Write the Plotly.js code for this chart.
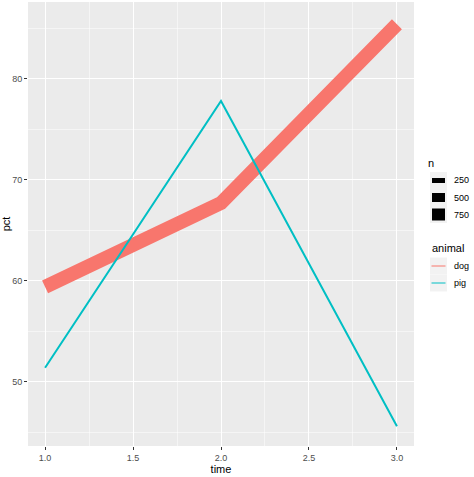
<!DOCTYPE html>
<html>
<head>
<meta charset="utf-8">
<script src="https://cdn.plot.ly/plotly-3.0.1.min.js"></script>
<style>body{margin:0;padding:0;background:#fff;} #chart{width:474px;height:477px;}</style>
</head>
<body>
<div id="chart"></div>
<script>
// Data
const time = [1.0, 2.0, 3.0];
const dogPct = [59.4, 67.7, 85.4];
const pigPct = [51.4, 77.8, 45.6];
const animals = ["dog", "pig"];
const nLabels = ["250", "500", "750"];
const xTicks = [1.0, 1.5, 2.0, 2.5, 3.0];
const xTickText = ["1.0", "1.5", "2.0", "2.5", "3.0"];
const yTicks = [50, 60, 70, 80];

const W = 474, H = 477;
const L = 28, T = 2, R = 414, B = 446;
const px = x => (x - L) / (R - L);
const py = y => (B - y) / (B - T);

const dogColor = "#F8766D", pigColor = "#00BFC4";

const traces = [
  {x: time, y: dogPct, type: "scatter", mode: "lines", name: animals[0],
   line: {color: dogColor, width: 14}, showlegend: false, hoverinfo: "skip"},
  {x: time, y: pigPct, type: "scatter", mode: "lines", name: animals[1],
   line: {color: pigColor, width: 2}, showlegend: false, hoverinfo: "skip"}
];

const shapes = [];
const annotations = [];
const legFont = {family: "Liberation Sans, Arial, sans-serif", size: 9, color: "#000000"};
const titleFont = {family: "Liberation Sans, Arial, sans-serif", size: 11, color: "#000000"};

// n legend
annotations.push({xref: "paper", yref: "paper", x: px(426), y: py(163), text: "n",
  showarrow: false, xanchor: "left", yanchor: "middle", font: titleFont});
const nCenters = [180.5, 197.5, 214.5];
const nHeights = [5, 9, 12];
nLabels.forEach((lab, i) => {
  const c = nCenters[i];
  shapes.push({type: "rect", xref: "paper", yref: "paper",
    x0: px(430), x1: px(447), y0: py(c + 8.5), y1: py(c - 8.5),
    fillcolor: "#F2F2F2", line: {width: 0}, layer: "below"});
  shapes.push({type: "rect", xref: "paper", yref: "paper",
    x0: px(432), x1: px(445), y0: py(c + nHeights[i] / 2), y1: py(c - nHeights[i] / 2),
    fillcolor: "#000000", line: {width: 0}});
  annotations.push({xref: "paper", yref: "paper", x: px(452), y: py(c), text: lab,
    showarrow: false, xanchor: "left", yanchor: "middle", font: legFont});
});

// animal legend
annotations.push({xref: "paper", yref: "paper", x: px(430), y: py(248), text: "animal",
  showarrow: false, xanchor: "left", yanchor: "middle", font: titleFont});
const aCenters = [266, 283];
const aColors = [dogColor, pigColor];
animals.forEach((lab, i) => {
  const c = aCenters[i];
  shapes.push({type: "rect", xref: "paper", yref: "paper",
    x0: px(430), x1: px(447), y0: py(c + 8.5), y1: py(c - 8.5),
    fillcolor: "#F2F2F2", line: {width: 0}, layer: "below"});
  shapes.push({type: "line", xref: "paper", yref: "paper",
    x0: px(431.5), x1: px(445.5), y0: py(c), y1: py(c),
    line: {color: aColors[i], width: 1}});
  annotations.push({xref: "paper", yref: "paper", x: px(452), y: py(c), text: lab,
    showarrow: false, xanchor: "left", yanchor: "middle", font: legFont});
});

const tickFont = {family: "Liberation Sans, Arial, sans-serif", size: 9, color: "#4D4D4D"};

const layout = {
  width: W, height: H,
  margin: {l: L, r: W - R, t: T, b: H - B, pad: 0},
  paper_bgcolor: "#FFFFFF",
  plot_bgcolor: "#EBEBEB",
  showlegend: false,
  xaxis: {
    range: [0.903, 3.097], tickvals: xTicks, ticktext: xTickText,
    showgrid: true, gridcolor: "#FFFFFF", gridwidth: 1,
    minor: {tickvals: [1.25, 1.75, 2.25, 2.75], showgrid: true, gridcolor: "#FFFFFF", gridwidth: 0.5, ticks: ""},
    zeroline: false, showline: false,
    ticks: "outside", ticklen: 3, tickwidth: 1, tickcolor: "#333333",
    tickfont: tickFont,
    title: {text: "time", font: {family: "Liberation Sans, Arial, sans-serif", size: 11, color: "#000000"}, standoff: 1}
  },
  yaxis: {
    range: [43.65, 87.6], tickvals: yTicks,
    showgrid: true, gridcolor: "#FFFFFF", gridwidth: 1,
    minor: {tickvals: [45, 55, 65, 75, 85], showgrid: true, gridcolor: "#FFFFFF", gridwidth: 0.5, ticks: ""},
    zeroline: false, showline: false,
    ticks: "outside", ticklen: 3, tickwidth: 1, tickcolor: "#333333",
    tickfont: tickFont,
    title: {text: "pct", font: {family: "Liberation Sans, Arial, sans-serif", size: 11, color: "#000000"}, standoff: 3}
  },
  shapes: shapes,
  annotations: annotations
};

Plotly.newPlot("chart", traces, layout, {displayModeBar: false, staticPlot: true});
</script>
</body>
</html>
